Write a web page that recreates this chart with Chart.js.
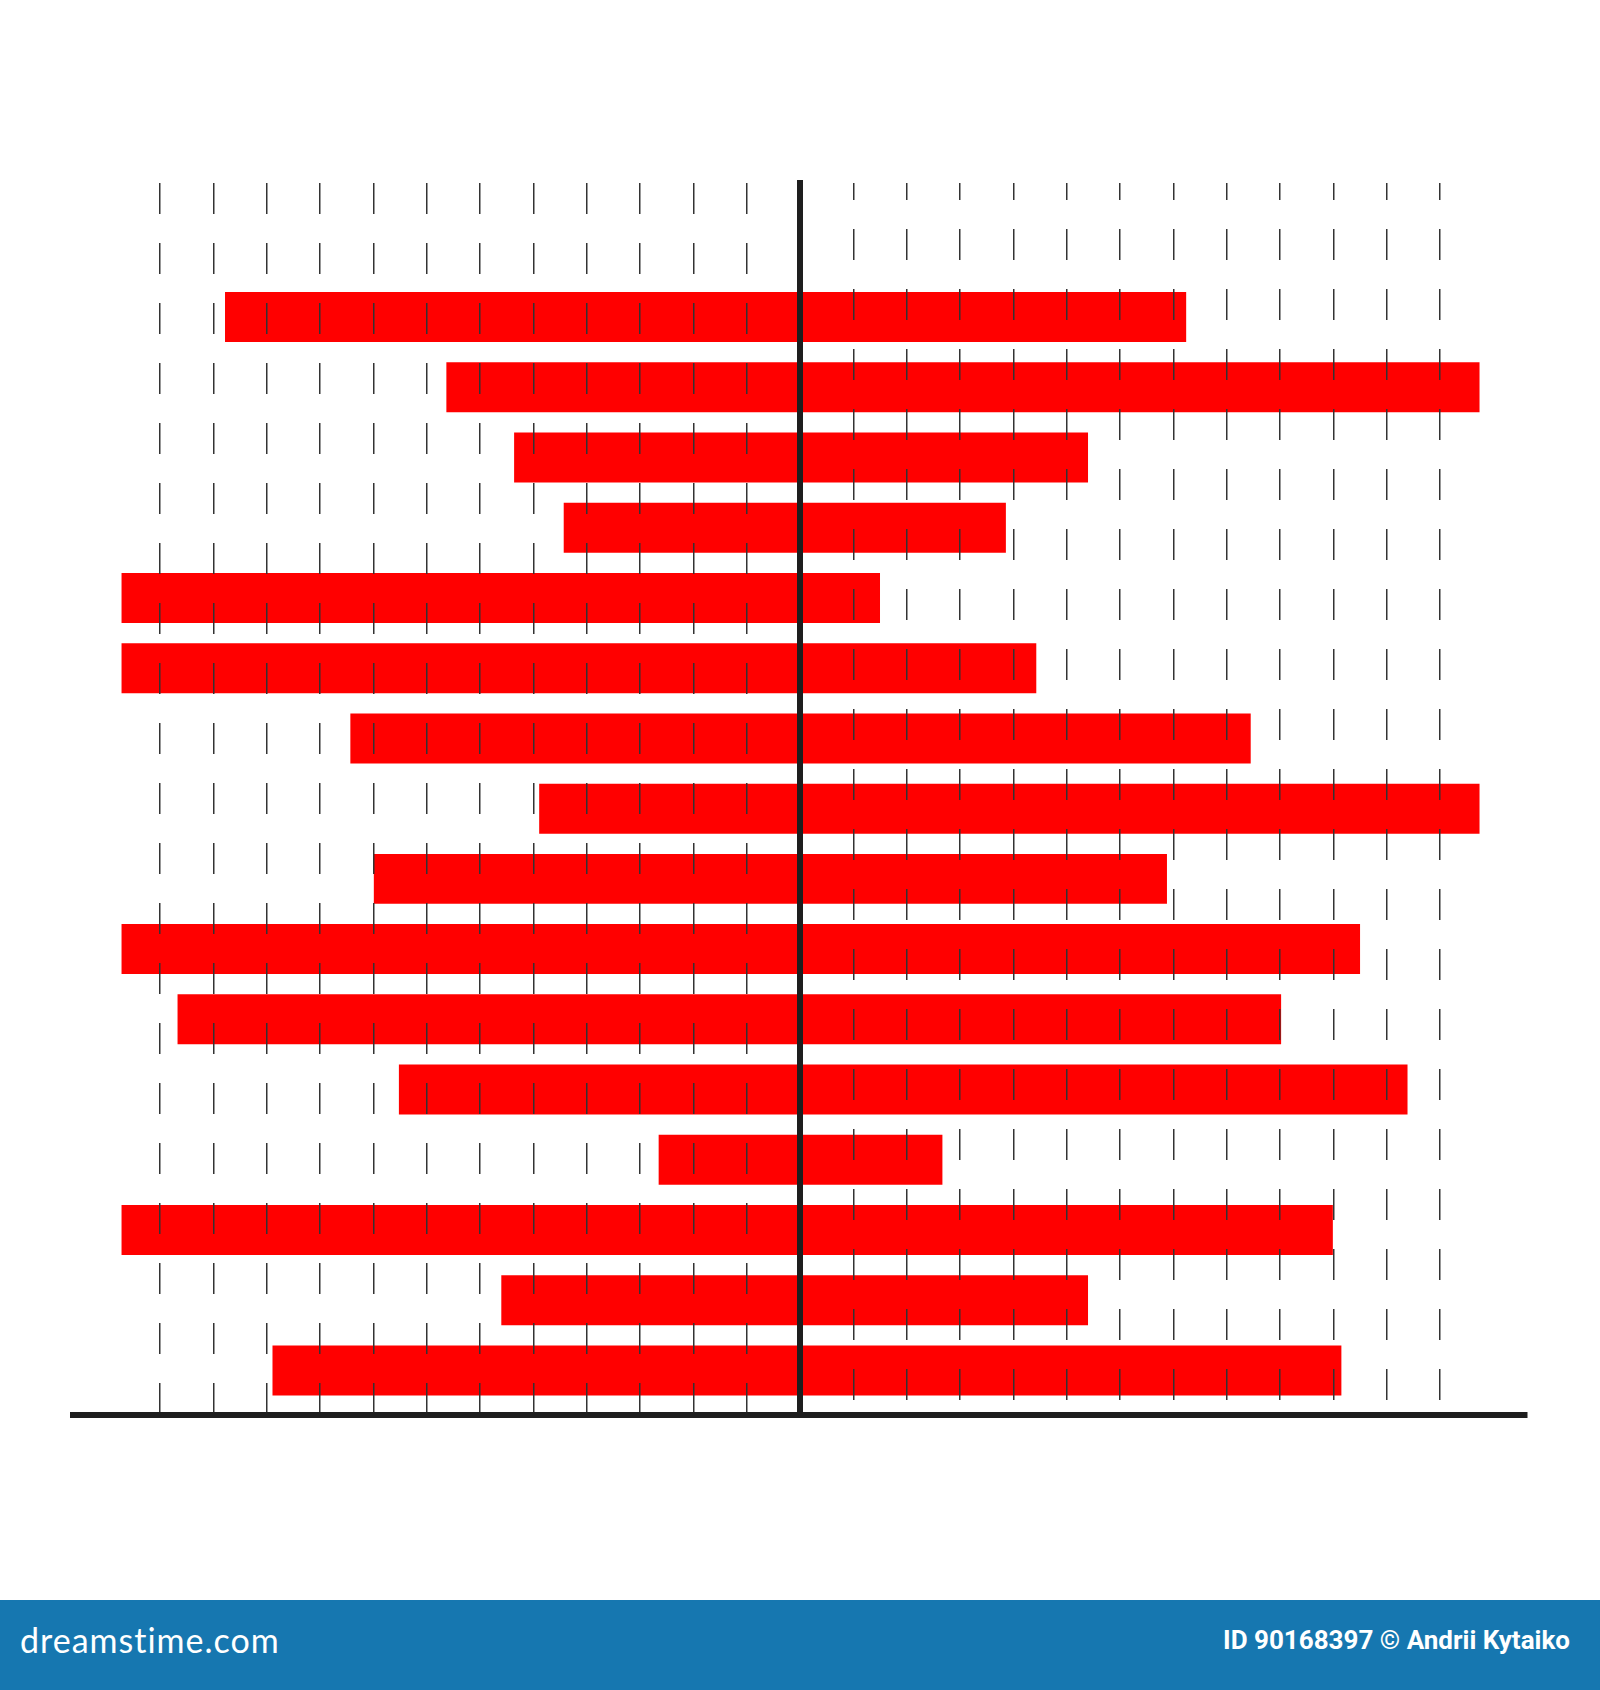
<!DOCTYPE html>
<html>
<head>
<meta charset="utf-8">
<script src="https://cdn.jsdelivr.net/npm/chart.js@4/dist/chart.umd.min.js"></script>
<style>
  html, body { margin: 0; padding: 0; background: #fff; }
  #wrap { position: relative; width: 1600px; height: 1600px; }
  #banner { position: relative; width: 1600px; height: 90px; background: #1677b0; color: #fff; }
  #banner .site { position: absolute; left: 20px; top: 19px; font-family: Lato, sans-serif; font-size: 34px; letter-spacing: 1px; }
  #banner .id { position: absolute; right: 30px; top: 25px; font-family: Roboto, sans-serif; font-weight: bold; font-size: 26px; }
</style>
</head>
<body>
<div id="wrap"><canvas id="myChart" width="1600" height="1600"></canvas></div>
<div id="banner">
  <span class="site">dreamstime.com</span>
  <span class="id">ID 90168397 © Andrii Kytaiko</span>
</div>
<script>
// rows, top to bottom
let rows = [1, 2, 3, 4, 5, 6, 7, 8, 9, 10, 11, 12, 13, 14, 15, 16];
// left end and right end of each bar
let lowValues = [-10.78, -6.63, -5.36, -4.43, -12.72, -12.72, -8.43, -4.89, -7.99, -12.72, -11.67, -7.52, -2.65, -12.72, -5.60, -9.89];
let highValues = [7.24, 12.74, 5.40, 3.86, 1.50, 4.43, 8.45, 12.74, 6.88, 10.50, 9.02, 11.39, 2.67, 9.99, 5.40, 10.15];

let xMin = -13.63, xMax = 13.63;
let gridLimit = 12; // dashed lines go from -12 to 12
let yMin = -0.91, yMax = 16.635;

let ctx = document.getElementById('myChart').getContext('2d');
let myChart = new Chart(ctx, {
    type: 'bar',
    data: {
        datasets: [{
            data: rows.map((r, i) => ({ y: r, x: [lowValues[i], highValues[i]] })),
            backgroundColor: '#ff0000',
            borderWidth: 0,
            categoryPercentage: 1,
            barPercentage: 0.712
        }]
    },
    options: {
        indexAxis: 'y',
        responsive: false,
        animation: false,
        layout: { padding: { left: 73, right: 73, top: 183, bottom: 185 } },
        plugins: { legend: { display: false }, tooltip: { enabled: false } },
        scales: {
            x: {
                type: 'linear',
                min: xMin,
                max: xMax,
                ticks: { display: false, stepSize: 1 },
                grid: {
                    drawTicks: false,
                    z: 1,
                    lineWidth: 1.5,
                    color: (c) => {
                        let v = c.tick ? c.tick.value : null;
                        if (v === null || v === 0 || !Number.isInteger(v) || Math.abs(v) > gridLimit) return 'rgba(0,0,0,0)';
                        return '#333333';
                    }
                },
                border: {
                    display: true, color: '#1e1e1e', width: 6, z: 1, dash: [31, 29],
                    dashOffset: (c) => (c.tick && c.tick.value > 0 ? 14 : 0)
                }
            },
            y: {
                type: 'linear',
                reverse: true,
                offset: false,
                min: yMin,
                max: yMax,
                position: { x: 0 },
                ticks: { display: false, stepSize: 1, includeBounds: false },
                grid: { drawTicks: false, lineWidth: 0 },
                border: { display: true, color: '#1e1e1e', width: 6, z: 1 }
            }
        }
    }
});
</script>
</body>
</html>
